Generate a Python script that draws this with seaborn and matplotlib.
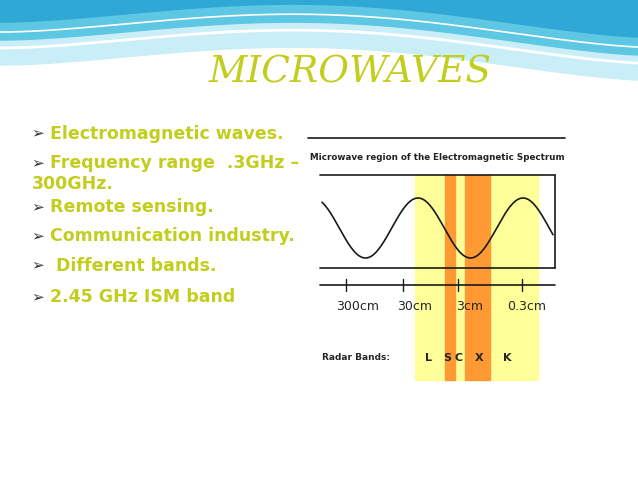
import numpy as np
import matplotlib
matplotlib.use("Agg")
import matplotlib.pyplot as plt
import seaborn as sns
import pandas as pd

sns.set_theme(style="white")
plt.rcParams['font.family'] = ['DejaVu Sans']

bullets = ["Electromagnetic waves.", "Frequency range  .3GHz \u2013\n300GHz.", "Remote sensing.",
           "Communication industry.", " Different bands.", "2.45 GHz ISM band"]
bullet_y = [134, 163, 207, 236, 266, 297]
scale_labels = ["300cm", "30cm", "3cm", "0.3cm"]
scale_x = [358, 415, 470, 527]
band_letters = ["L", "S", "C", "X", "K"]
band_x = [428, 447, 459, 479, 507]
bands = [(415, 538, "#ffff99"), (445, 455, "#ff9933"), (465, 490, "#ff9933")]
wave_period = 105.0
wave_peak_x = 418.0
wave_mid_y = 228.0
wave_amp = 30.0

W, H = 638, 478
fig = plt.figure(figsize=(6.38, 4.78), dpi=100)
fig.patch.set_facecolor("white")
ax = fig.add_axes([0, 0, 1, 1])
ax.set_xlim(0, W); ax.set_ylim(H, 0); ax.axis("off")

xs = np.linspace(0, W, 300)
top1 = 40 - 25 * np.sin(np.pi * xs / W) ** 1.5 + 15 * (xs / W)
ax.fill_between(xs, 0, top1 + 25, color="#c9eef7")
ax.fill_between(xs, 0, top1, color="#5ec8e4")
ax.fill_between(xs, 0, top1 - 18, color="#2fa8d6")
ax.plot(xs, top1 + 8, color="white", lw=2)
ax.plot(xs, top1 - 8, color="white", lw=1.2)

col = "#c3cd1e"
ax.text(350, 72, "MICROWAVES", color=col, fontsize=27, style="italic",
        ha="center", va="center", family="DejaVu Serif")
for t, y in zip(bullets, bullet_y):
    ax.text(32, y, "\u27a2 ", color="#333333", fontsize=11, va="center", ha="left")
    ax.text(50, y, t.split("\n")[0], color=col, fontsize=12.5, fontweight="bold", va="center")
    if "\n" in t:
        ax.text(32, y + 21, t.split("\n")[1], color=col, fontsize=12.5, fontweight="bold", va="center")

for x0, x1, c in bands:
    ax.fill_between([x0, x1], 175, 380, color=c, zorder=1)
ax.text(310, 157, "Microwave region of the Electromagnetic Spectrum", fontsize=6.3,
        fontweight="bold", va="center", color="#222")
ax.plot([308, 565], [138, 138], color="k", lw=1.2)
ax.plot([320, 555], [175, 175], color="k", lw=1.2)
ax.plot([320, 555], [268, 268], color="k", lw=1.2)
ax.plot([320, 555], [285, 285], color="k", lw=1.2)
ax.plot([555, 555], [175, 268], color="k", lw=1.2)
wx = np.linspace(322, 553, 400)
wave = pd.DataFrame({"x": wx, "y": wave_mid_y - wave_amp * np.cos(2 * np.pi * (wx - wave_peak_x) / wave_period)})
sns.lineplot(data=wave, x="x", y="y", ax=ax, color="k", lw=1.2, sort=False)
for lab, x in zip(scale_labels, scale_x):
    tx = x - 12 if lab != "0.3cm" else x - 5
    ax.plot([tx, tx], [279, 291], color="k", lw=1)
    ax.text(x, 306, lab, ha="center", va="center", fontsize=9)
ax.text(322, 358, "Radar Bands:", fontsize=6.5, fontweight="bold", va="center")
for lab, x in zip(band_letters, band_x):
    ax.text(x, 358, lab, fontsize=8, fontweight="bold", ha="center", va="center")
ax.set_xlabel(""); ax.set_ylabel("")
ax.set_xlim(0, W); ax.set_ylim(H, 0)
fig.savefig("out.png", dpi=100, facecolor="white")
